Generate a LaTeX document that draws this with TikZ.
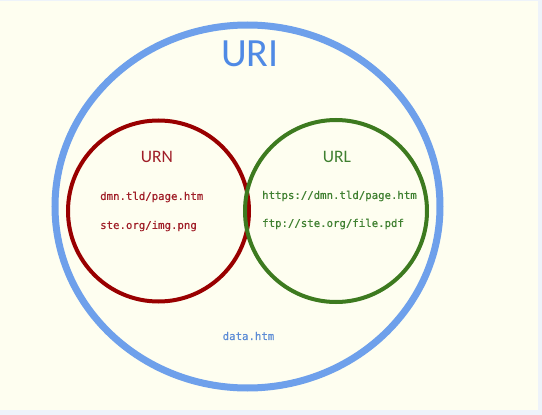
\documentclass[tikz,border=0pt]{standalone}
\usepackage{fontspec}
\usetikzlibrary{shapes.geometric}
\setmainfont{Carlito}
\newfontfamily\monofont[FakeBold=0.4]{DejaVu Sans Mono}
\definecolor{bgcream}{HTML}{FEFEF0}
\definecolor{edgeblue}{HTML}{EEF3FA}
\definecolor{uriblue}{HTML}{6EA0EB}
\definecolor{uritext}{HTML}{4F8AE5}
\definecolor{datablue}{HTML}{5B8BD6}
\definecolor{urnred}{HTML}{990000}
\definecolor{urntext}{HTML}{A01E28}
\definecolor{urlgreen}{HTML}{3D7A1F}
\definecolor{urltext}{HTML}{3F8030}
\tikzset{
  setring/.style={draw, circle, minimum size=#1, inner sep=0pt},
  monolabel/.style={inner sep=0pt, anchor=west, font=\monofont\fontsize{10.7}{12}\selectfont},
  setlabel/.style={inner sep=0pt, font=\fontsize{17.5}{20}\selectfont}
}
\begin{document}
\begin{tikzpicture}[x=1pt,y=-1pt]
\useasboundingbox (0,0) rectangle (542,415);
\fill[edgeblue] (0,0) rectangle (542,415);
\fill[bgcream] (0,1) rectangle (538,410);
% outer URI ellipse
\node[draw=uriblue, line width=7pt, ellipse, minimum width=385pt, minimum height=363pt, inner sep=0pt] (uri) at (247.5,206.5) {};
\node[text=uritext, inner sep=0pt, font=\fontsize{40}{44}\selectfont] (uritxt) at (250,54) {URI};
% URN circle
\node[setring=181pt, draw=urnred, line width=4pt] (urn) at (158.5,211) {};
\node[setlabel, text=urntext] (urntxt) at (157,157) {URN};
\node[monolabel, text=urntext] (urn1) at (100,197) {dmn.tld/page.htm};
\node[monolabel, text=urntext] (urn2) at (100,226) {ste.org/img.png};
% URL circle
\node[setring=182pt, draw=urlgreen, line width=4pt] (url) at (336,211) {};
\node[setlabel, text=urltext] (urltxt) at (337,157) {URL};
\node[monolabel, text=urltext] (url1) at (262,196) {https://dmn.tld/page.htm};
\node[monolabel, text=urltext] (url2) at (262,224) {ftp://ste.org/file.pdf};
% outside both
\node[inner sep=0pt, text=datablue, font=\monofont\fontsize{10.7}{12}\selectfont] (data) at (248.5,336) {data.htm};
\end{tikzpicture}
\end{document}
